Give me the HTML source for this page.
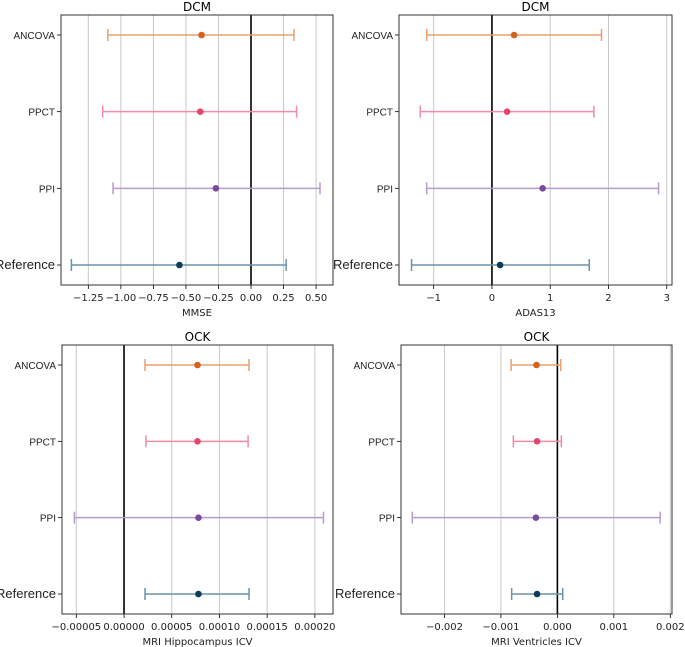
<!DOCTYPE html>
<html><head><meta charset="utf-8"><style>
body{margin:0;background:#fff}
svg{display:block;font-family:"DejaVu Sans","Liberation Sans",sans-serif}
</style></head><body>
<svg id="fig" width="685" height="647" viewBox="0 0 685 647" xmlns="http://www.w3.org/2000/svg"></svg>
<script>
const methods = ["ANCOVA","PPCT","PPI","Reference"];
const colorsMark = ["#d4621c","#e8456a","#7a4a9c","#0b3c5a"];
const colorsLine = ["#e9a070","#f08ca4","#b79ad0","#6a94ab"];
const mmseLo = [-1.10,-1.14,-1.06,-1.38];
const mmseMean = [-0.38,-0.39,-0.27,-0.55];
const mmseHi = [0.33,0.35,0.53,0.27];
const mmseTicks = [-1.25,-1.00,-0.75,-0.50,-0.25,0.00,0.25,0.50];
const mmseTickLabels = ["−1.25","−1.00","−0.75","−0.50","−0.25","0.00","0.25","0.50"];
const adasLo = [-1.12,-1.23,-1.12,-1.38];
const adasMean = [0.38,0.26,0.87,0.14];
const adasHi = [1.88,1.75,2.86,1.67];
const adasTicks = [-1,0,1,2,3];
const adasTickLabels = ["−1","0","1","2","3"];
const hipLo = [0.000022,0.000023,-0.000052,0.000022];
const hipMean = [0.000077,0.000077,0.000078,0.000078];
const hipHi = [0.000131,0.000130,0.000209,0.000131];
const hipTicks = [-0.00005,0,0.00005,0.0001,0.00015,0.0002];
const hipTickLabels = ["−0.00005","0.00000","0.00005","0.00010","0.00015","0.00020"];
const venLo = [-0.00082,-0.00078,-0.00257,-0.00081];
const venMean = [-0.00037,-0.00036,-0.00038,-0.00036];
const venHi = [0.00006,0.00007,0.00182,0.000094];
const venTicks = [-0.002,-0.001,0,0.001,0.002];
const venTickLabels = ["−0.002","−0.001","0.000","0.001","0.002"];

const panels = [
 {name:"mmse",title:"DCM",xlabel:"MMSE",x0:61,x1:333,y0:15,y1:285,dmin:-1.46,dmax:0.63,lo:mmseLo,mean:mmseMean,hi:mmseHi,ticks:mmseTicks,tl:mmseTickLabels},
 {name:"adas13",title:"DCM",xlabel:"ADAS13",x0:399,x1:672,y0:15,y1:285,dmin:-1.595,dmax:3.09,lo:adasLo,mean:adasMean,hi:adasHi,ticks:adasTicks,tl:adasTickLabels},
 {name:"hippocampus",title:"OCK",xlabel:"MRI Hippocampus ICV",x0:62,x1:333,y0:345,y1:614,dmin:-0.000065,dmax:0.000219,lo:hipLo,mean:hipMean,hi:hipHi,ticks:hipTicks,tl:hipTickLabels},
 {name:"ventricles",title:"OCK",xlabel:"MRI Ventricles ICV",x0:401,x1:672,y0:345,y1:614,dmin:-0.00277,dmax:0.00203,lo:venLo,mean:venMean,hi:venHi,ticks:venTicks,tl:venTickLabels}
];
const NS="http://www.w3.org/2000/svg";
const svg=document.getElementById('fig');
function mk(tag,attrs,parent,text){const e=document.createElementNS(NS,tag);for(const k in attrs)e.setAttribute(k,attrs[k]);if(text!==undefined)e.textContent=text;parent.appendChild(e);return e;}
panels.forEach(p=>{
  const g=mk('g',{},svg);
  
  
  const xs=v=>p.x0+(v-p.dmin)/(p.dmax-p.dmin)*(p.x1-p.x0);
  const pad=20, step=(p.y1-p.y0-2*pad)/(methods.length-1);
  const ys=i=>p.y0+pad+i*step;
  p.ticks.forEach((t,i)=>{
    const x=xs(t);
    const gl=mk('line',{x1:x,x2:x,y1:p.y0,y2:p.y1,stroke:"#c8c8c8","stroke-width":1},g);
    
    
    mk('line',{x1:x,x2:x,y1:p.y1,y2:p.y1+4,stroke:"#000","stroke-width":0.8},g);
    const tx=mk('text',{x:x,y:p.y1+16,"font-size":10,"text-anchor":"middle",fill:"#222"},g,p.tl[i]);
    
    
  });
  const z=xs(0);
  const zl=mk('line',{x1:z,x2:z,y1:p.y0,y2:p.y1,stroke:"#000","stroke-width":1.6},g);
  
  
  methods.forEach((m,i)=>{
    const y=ys(i);
    mk('line',{x1:p.x0-4,x2:p.x0,y1:y,y2:y,stroke:"#000","stroke-width":0.8},g);
    const lb=mk('text',{x:p.x0-6,y:y+4,"font-size":m==="Reference"?13:10,"text-anchor":"end",fill:"#222","font-family":"Liberation Sans, sans-serif"},g,m);
    
    
    const eg=mk('g',{},g);
    
    
    const a=xs(p.lo[i]),b=xs(p.hi[i]),c=xs(p.mean[i]);
    mk('line',{x1:a,x2:b,y1:y,y2:y,stroke:colorsLine[i],"stroke-width":1.5},eg);
    mk('line',{x1:a,x2:a,y1:y-6,y2:y+6,stroke:colorsLine[i],"stroke-width":1.5},eg);
    mk('line',{x1:b,x2:b,y1:y-6,y2:y+6,stroke:colorsLine[i],"stroke-width":1.5},eg);
    const pt=mk('circle',{cx:c,cy:y,r:3.3,fill:colorsMark[i]},eg);
    
    
  });
  const fr=mk('rect',{x:p.x0,y:p.y0,width:p.x1-p.x0,height:p.y1-p.y0,fill:"none",stroke:"#333","stroke-width":1},g);
  
  
  const tt=mk('text',{x:(p.x0+p.x1)/2,y:p.y0-4,"font-size":12,"text-anchor":"middle",fill:"#000"},g,p.title);
  
  
  const xl=mk('text',{x:(p.x0+p.x1)/2,y:p.y1+31,"font-size":10,"text-anchor":"middle",fill:"#222"},g,p.xlabel);
  
  
});
</script>
</body></html>
